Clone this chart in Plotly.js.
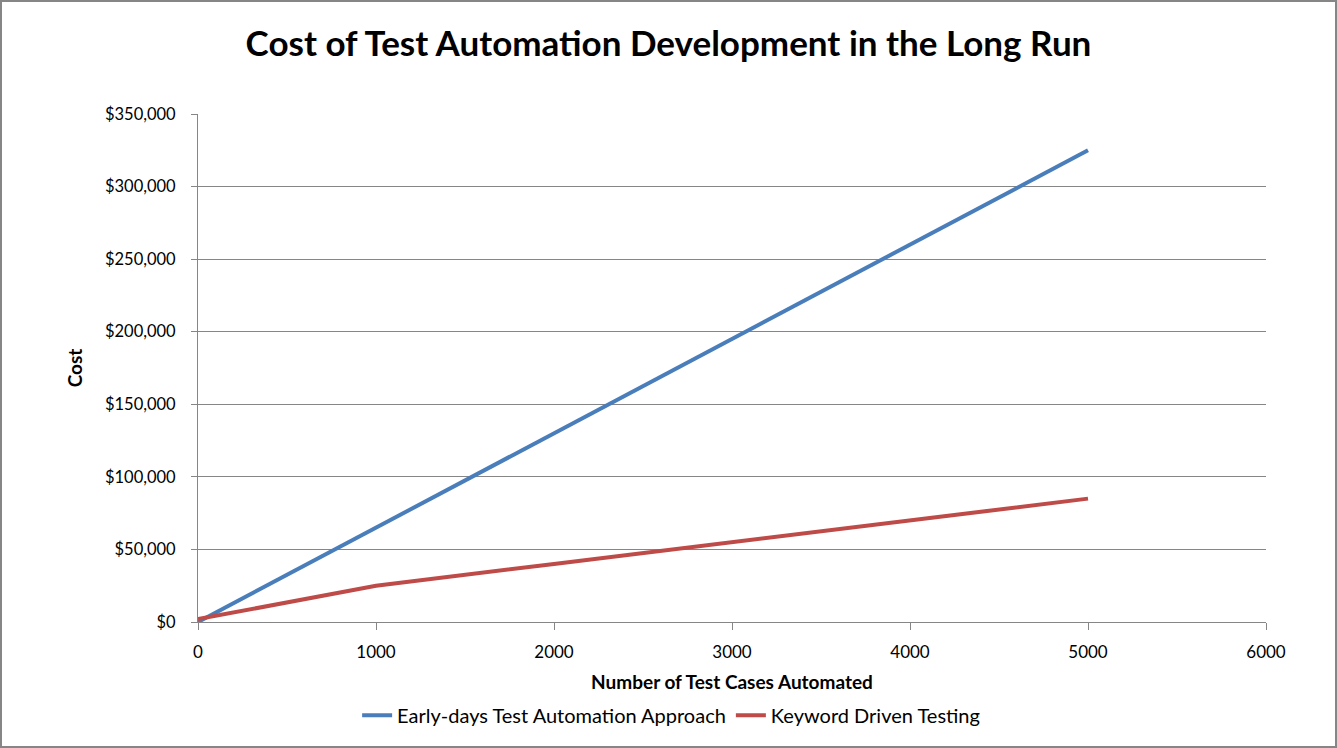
<!DOCTYPE html>
<html>
<head>
<meta charset="utf-8">
<script src="https://cdn.plot.ly/plotly-3.0.1.min.js"></script>
<style>
  html, body { margin: 0; padding: 0; background: #fff; }
  #chart { width: 1337px; height: 748px; box-sizing: border-box; border: 2px solid #868686; }
</style>
</head>
<body>
<div id="chart"></div>
<script>
const testCases = [0, 1000, 2000, 3000, 4000, 5000];
const earlyDaysCost = [0, 65000, 130000, 195000, 260000, 325000];
const keywordCost = [2000, 25000, 40000, 55000, 70000, 85000];
const seriesNames = ['Early-days Test Automation Approach', 'Keyword Driven Testing'];

const font = 'Lato, "Open Sans", sans-serif';

const traces = [
  { x: testCases, y: earlyDaysCost, name: seriesNames[0], type: 'scatter', mode: 'lines',
    line: { color: '#4a7ebb', width: 4 } },
  { x: testCases, y: keywordCost, name: seriesNames[1], type: 'scatter', mode: 'lines',
    line: { color: '#be4b48', width: 4 } }
];

const layout = {
  width: 1333, height: 744,
  margin: { l: 196, r: 69, t: 112, b: 124, autoexpand: false },
  paper_bgcolor: '#fff', plot_bgcolor: '#fff',
  font: { family: font, color: '#000', size: 16 },
  title: { text: '<b>Cost of Test Automation Development in the Long Run</b>',
    font: { size: 35, family: font, color: '#000' },
    x: 0.5, xanchor: 'center', y: 1 - 42 / 744, yanchor: 'middle', yref: 'container' },
  xaxis: {
    range: [0, 6000], dtick: 1000, tick0: 0, automargin: false,
    showgrid: false, zeroline: false,
    showline: true, linecolor: '#868686', linewidth: 1,
    ticks: 'outside', ticklen: 7, tickcolor: '#868686',
    ticklabelstandoff: 8,
    tickfont: { size: 17 },
    title: { text: '<b>Number of Test Cases Automated</b>', font: { size: 19 }, standoff: 14 }
  },
  yaxis: {
    range: [0, 350000], dtick: 50000, tick0: 0, automargin: false,
    tickprefix: '$', tickformat: ',d',
    showgrid: true, gridcolor: '#868686', gridwidth: 1, zeroline: false,
    showline: true, linecolor: '#868686', linewidth: 1,
    ticks: 'outside', ticklen: 6, tickcolor: '#868686',
    ticklabelstandoff: 12,
    tickfont: { size: 16.5 },
    title: { text: '<b>Cost</b>', font: { size: 19 }, standoff: 17 }
  },
  showlegend: true,
  legend: { orientation: 'h', x: 0.443, xanchor: 'center', y: -0.145, yanchor: 'top',
    font: { size: 20 }, traceorder: 'normal', itemwidth: 30, itemgap: 26 },
  hovermode: false
};

Plotly.newPlot('chart', traces, layout, { displayModeBar: false, staticPlot: true });
</script>
</body>
</html>
